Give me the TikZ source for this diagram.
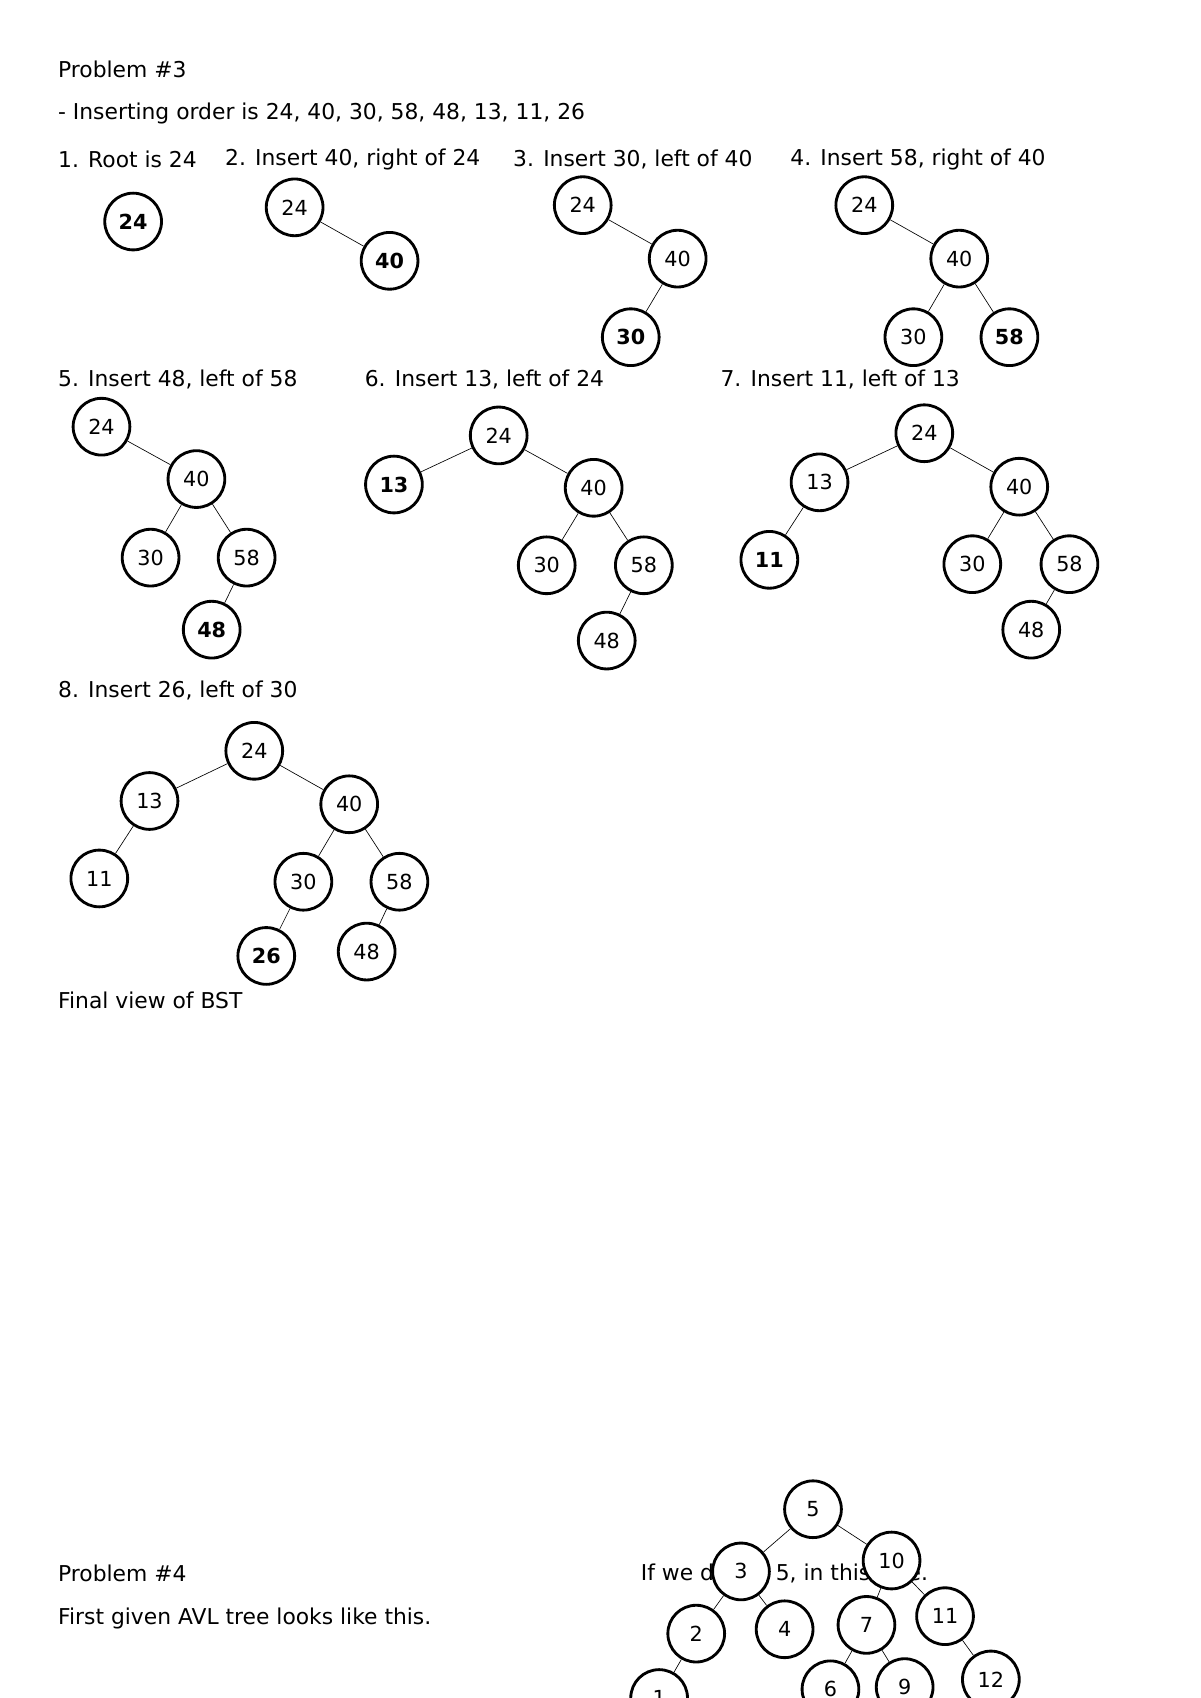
\documentclass[tikz,border=0pt]{standalone}
\usepackage{fontspec}
\setmainfont{DejaVu Sans}
\begin{document}
\begin{tikzpicture}[x=1pt,y=-1pt,
  nd/.style={circle,draw,line width=2.6pt,fill=white,minimum size=52pt,inner sep=0pt,font=\fontsize{19}{22}\selectfont},
  bn/.style={nd,font=\fontsize{19}{22}\selectfont\bfseries},
  lbl/.style={anchor=west,inner sep=0pt,font=\fontsize{20}{24}\selectfont},
  every path/.style={line width=0.6pt}]
\useasboundingbox (0,0) rectangle (1100,1556);
\node[lbl] (t1) at (53,64) {Problem \#3};
\node[lbl] (t2) at (53,104) {- Inserting order is 24, 40, 30, 58, 48, 13, 11, 26};
\node[lbl] (s1) at (53,146) {1. Root is 24};
\node[lbl] (s2) at (206,146) {2. Insert 40, right of 24};
\node[lbl] (s3) at (470,146) {3. Insert 30, left of 40};
\node[lbl] (s4) at (724,146) {4. Insert 58, right of 40};
\node[lbl] (s5) at (53,348) {5. Insert 48, left of 58};
\node[lbl] (s6) at (334,348) {6. Insert 13, left of 24};
\node[lbl] (s7) at (660,348) {7. Insert 11, left of 13};
\node[lbl] (s8) at (53,633) {8. Insert 26, left of 30};
\node[lbl] (fv) at (53,917) {Final view of BST};
\node[lbl] (p4) at (53,1442) {Problem \#4};
\node[lbl] (p4b) at (53,1483) {First given AVL tree looks like this.};
\node[lbl] (p4c) at (587,1442) {If we delete 5, in this tree.};
% tree 1
\node[bn] (a1) at (122,203) {24};
% tree 2
\node[nd] (b1) at (270,190) {24};
\node[bn] (b2) at (357,239) {40};
\draw (b1)--(b2);
% tree 3
\node[nd] (c1) at (534,188) {24};
\node[nd] (c2) at (621,237) {40};
\node[bn] (c3) at (578,309) {30};
\draw (c1)--(c2) (c2)--(c3);
% tree 4
\node[nd] (d1) at (792,188) {24};
\node[nd] (d2) at (879,237) {40};
\node[nd] (d3) at (837,309) {30};
\node[bn] (d4) at (925,309) {58};
\draw (d1)--(d2) (d2)--(d3) (d2)--(d4);
% tree 5
\node[nd] (e1) at (93,391) {24};
\node[nd] (e2) at (180,439) {40};
\node[nd] (e3) at (138,511) {30};
\node[nd] (e4) at (226,511) {58};
\node[bn] (e5) at (194,577) {48};
\draw (e1)--(e2) (e2)--(e3) (e2)--(e4) (e4)--(e5);
% tree 6
\node[nd] (f1) at (457,399) {24};
\node[bn] (f2) at (361,444) {13};
\node[nd] (f3) at (544,447) {40};
\node[nd] (f4) at (501,518) {30};
\node[nd] (f5) at (590,518) {58};
\node[nd] (f6) at (556,587) {48};
\draw (f1)--(f2) (f1)--(f3) (f3)--(f4) (f3)--(f5) (f5)--(f6);
% tree 7
\node[nd] (g1) at (847,397) {24};
\node[nd] (g2) at (751,442) {13};
\node[bn] (g3) at (705,513) {11};
\node[nd] (g4) at (934,446) {40};
\node[nd] (g5) at (891,517) {30};
\node[nd] (g6) at (980,517) {58};
\node[nd] (g7) at (945,577) {48};
\draw (g1)--(g2) (g2)--(g3) (g1)--(g4) (g4)--(g5) (g4)--(g6) (g6)--(g7);
% tree 8
\node[nd] (h1) at (233,688) {24};
\node[nd] (h2) at (137,734) {13};
\node[nd] (h3) at (91,805) {11};
\node[nd] (h4) at (320,737) {40};
\node[nd] (h5) at (278,808) {30};
\node[nd] (h6) at (366,808) {58};
\node[bn] (h7) at (244,876) {26};
\node[nd] (h8) at (336,872) {48};
\draw (h1)--(h2) (h2)--(h3) (h1)--(h4) (h4)--(h5) (h4)--(h6) (h5)--(h7) (h6)--(h8);
% AVL tree
\node[nd] (v5) at (745,1383) {5};
\node[nd] (v3) at (679,1440) {3};
\node[nd] (v10) at (817,1430) {10};
\node[nd] (v2) at (638,1497) {2};
\node[nd] (v4) at (719,1493) {4};
\node[nd] (v7) at (794,1489) {7};
\node[nd] (v11) at (866,1481) {11};
\node[nd] (v1) at (604,1556) {1};
\node[nd] (v6) at (761,1548) {6};
\node[nd] (v9) at (829,1546) {9};
\node[nd] (v12) at (908,1539) {12};
\draw (v5)--(v3) (v5)--(v10) (v3)--(v2) (v3)--(v4) (v2)--(v1) (v10)--(v7) (v10)--(v11) (v7)--(v6) (v7)--(v9) (v11)--(v12);
\end{tikzpicture}
\end{document}
